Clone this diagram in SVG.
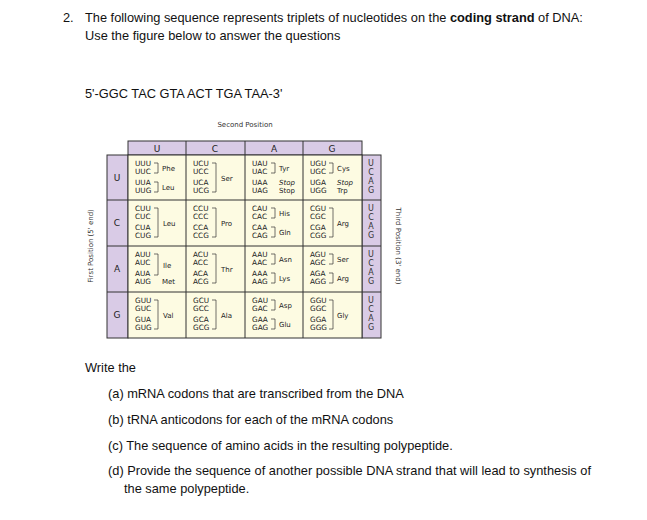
<svg xmlns="http://www.w3.org/2000/svg" width="647" height="520" viewBox="0 0 647 520">
<style>
.t{font-family:"Liberation Sans",Arial,sans-serif;font-size:12.8px;fill:#111}
.c{font-family:"DejaVu Sans",sans-serif;font-size:7.3px;fill:#222}
.h{font-family:"DejaVu Sans",sans-serif;font-size:9px;fill:#222;text-anchor:middle}
.s{font-family:"DejaVu Sans",sans-serif;font-size:7px;fill:#333;text-anchor:middle}
.hd{fill:#d9cbe6;stroke:#333;stroke-width:1}
.cl{fill:#fdfbe2;stroke:#333;stroke-width:1}
.b{fill:none;stroke:#333;stroke-width:0.7}
</style>
<rect width="647" height="520" fill="#fff"/>
<g id="question">
<text class="t" x="63" y="22">2.</text>
<text class="t" x="85" y="22">The following sequence represents triplets of nucleotides on the <tspan font-weight="bold">coding strand</tspan> of DNA:</text>
<text class="t" x="85" y="40">Use the figure below to answer the questions</text>
<text class="t" x="85" y="98">5'-GGC TAC GTA ACT TGA TAA-3'</text>
</g>
<g id="table">
<text class="s" x="245" y="127">Second Position</text>
<rect class="hd" x="128" y="141" width="234" height="14"/>
<rect class="hd" x="107" y="155" width="21" height="183"/>
<rect class="hd" x="362" y="155" width="19" height="183"/>
<rect class="cl" x="128" y="155" width="234" height="183"/>
<g style="stroke-width:1;stroke:#333">
<line x1="186" y1="141" x2="186" y2="338"/><line x1="245" y1="141" x2="245" y2="338"/><line x1="303" y1="141" x2="303" y2="338"/>
<line x1="107" y1="200" x2="381" y2="200"/><line x1="107" y1="246" x2="381" y2="246"/><line x1="107" y1="292" x2="381" y2="292"/>
</g>
<text class="h" x="157" y="152">U</text><text class="h" x="215" y="152">C</text><text class="h" x="274" y="152">A</text><text class="h" x="332" y="152">G</text>
<text class="h" x="117" y="181">U</text><text class="h" x="117" y="226">C</text><text class="h" x="117" y="272">A</text><text class="h" x="117" y="318">G</text>
<g class="s" style="font-size:8px">
<text x="371" y="166">U</text><text x="371" y="175">C</text><text x="371" y="184">A</text><text x="371" y="193">G</text>
<text x="371" y="211">U</text><text x="371" y="220">C</text><text x="371" y="229">A</text><text x="371" y="238">G</text>
<text x="371" y="257">U</text><text x="371" y="266">C</text><text x="371" y="275">A</text><text x="371" y="284">G</text>
<text x="371" y="303">U</text><text x="371" y="312">C</text><text x="371" y="321">A</text><text x="371" y="330">G</text>
</g>
<text class="s" transform="translate(93,246) rotate(-90)">First Position (5' end)</text>
<text class="s" transform="translate(396,246) rotate(90)">Third Position (3' end)</text>
<g class="c">
<text x="135" y="166">UUU</text><text x="135" y="174">UUC</text><text x="135" y="185">UUA</text><text x="135" y="193">UUG</text>
<text x="193" y="166">UCU</text><text x="193" y="174">UCC</text><text x="193" y="185">UCA</text><text x="193" y="193">UCG</text>
<text x="252" y="166">UAU</text><text x="252" y="174">UAC</text><text x="252" y="185">UAA</text><text x="252" y="193">UAG</text>
<text x="310" y="166">UGU</text><text x="310" y="174">UGC</text><text x="310" y="185">UGA</text><text x="310" y="193">UGG</text>
<text x="162" y="171" font-size="7">Phe</text><text x="162" y="190" font-size="7">Leu</text>
<text x="221" y="181" font-size="7">Ser</text>
<text x="279" y="171" font-size="7">Tyr</text><text x="279" y="185" font-size="7" font-style="italic">Stop</text><text x="279" y="193" font-size="7">Stop</text>
<text x="337" y="171" font-size="7">Cys</text><text x="337" y="185" font-size="7" font-style="italic">Stop</text><text x="337" y="193" font-size="7">Trp</text>
</g>
<g class="c">
<text x="135" y="211">CUU</text><text x="135" y="219">CUC</text><text x="135" y="230">CUA</text><text x="135" y="238">CUG</text>
<text x="193" y="211">CCU</text><text x="193" y="219">CCC</text><text x="193" y="230">CCA</text><text x="193" y="238">CCG</text>
<text x="252" y="211">CAU</text><text x="252" y="219">CAC</text><text x="252" y="230">CAA</text><text x="252" y="238">CAG</text>
<text x="310" y="211">CGU</text><text x="310" y="219">CGC</text><text x="310" y="230">CGA</text><text x="310" y="238">CGG</text>
<text x="163" y="226" font-size="7">Leu</text><text x="221" y="226" font-size="7">Pro</text>
<text x="279" y="216" font-size="7">His</text><text x="279" y="235" font-size="7">Gln</text><text x="337" y="226" font-size="7">Arg</text>
</g>
<g class="c">
<text x="135" y="257">AUU</text><text x="135" y="265">AUC</text><text x="135" y="276">AUA</text><text x="135" y="284">AUG</text>
<text x="193" y="257">ACU</text><text x="193" y="265">ACC</text><text x="193" y="276">ACA</text><text x="193" y="284">ACG</text>
<text x="252" y="257">AAU</text><text x="252" y="265">AAC</text><text x="252" y="276">AAA</text><text x="252" y="284">AAG</text>
<text x="310" y="257">AGU</text><text x="310" y="265">AGC</text><text x="310" y="276">AGA</text><text x="310" y="284">AGG</text>
<text x="163" y="268" font-size="7">Ile</text><text x="162" y="284" font-size="7">Met</text>
<text x="221" y="272" font-size="7">Thr</text>
<text x="279" y="262" font-size="7">Asn</text><text x="279" y="281" font-size="7">Lys</text>
<text x="337" y="262" font-size="7">Ser</text><text x="337" y="281" font-size="7">Arg</text>
</g>
<g class="c">
<text x="135" y="303">GUU</text><text x="135" y="311">GUC</text><text x="135" y="322">GUA</text><text x="135" y="330">GUG</text>
<text x="193" y="303">GCU</text><text x="193" y="311">GCC</text><text x="193" y="322">GCA</text><text x="193" y="330">GCG</text>
<text x="252" y="303">GAU</text><text x="252" y="311">GAC</text><text x="252" y="322">GAA</text><text x="252" y="330">GAG</text>
<text x="310" y="303">GGU</text><text x="310" y="311">GGC</text><text x="310" y="322">GGA</text><text x="310" y="330">GGG</text>
<text x="163" y="318" font-size="7">Val</text><text x="221" y="318" font-size="7">Ala</text>
<text x="279" y="308" font-size="7">Asp</text><text x="279" y="327" font-size="7">Glu</text><text x="337" y="318" font-size="7">Gly</text>
</g>
<g class="b">
<path d="M154 163H158V173H154M154 182H158V192H154"/>
<path d="M212 163H216V192H212"/>
<path d="M271 163H275V173H271"/>
<path d="M329 163H333V173H329"/>
<path d="M154 208H158V237H154"/><path d="M212 208H216V237H212"/>
<path d="M271 208H275V218H271M271 227H275V237H271"/>
<path d="M329 208H333V237H329"/>
<path d="M154 254H158V275H154"/><path d="M212 254H216V283H212"/>
<path d="M271 254H275V264H271M271 273H275V283H271"/>
<path d="M329 254H333V264H329M329 273H333V283H329"/>
<path d="M154 300H158V329H154"/><path d="M212 300H216V329H212"/>
<path d="M271 300H275V310H271M271 319H275V329H271"/>
<path d="M329 300H333V329H329"/>
</g>
</g>
<g id="tasks">
<text class="t" x="85" y="372">Write the</text>
<text class="t" x="108" y="398">(a) mRNA codons that are transcribed from the DNA</text>
<text class="t" x="108" y="424">(b) tRNA anticodons for each of the mRNA codons</text>
<text class="t" x="108" y="450">(c) The sequence of amino acids in the resulting polypeptide.</text>
<text class="t" x="108" y="475">(d) Provide the sequence of another possible DNA strand that will lead to synthesis of</text>
<text class="t" x="124" y="493">the same polypeptide.</text>
</g>
</svg>
